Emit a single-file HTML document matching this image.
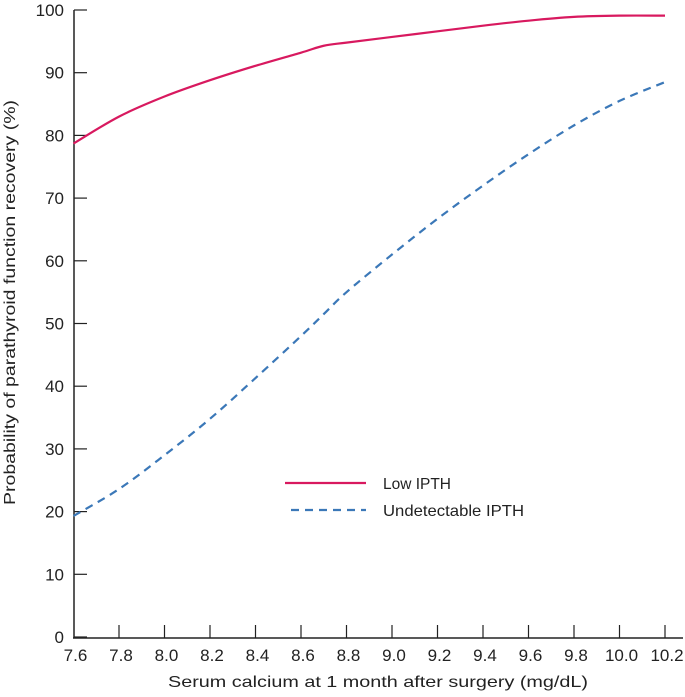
<!DOCTYPE html>
<html><head><meta charset="utf-8"><style>
body{margin:0;background:#fff}
svg text{font-family:"Liberation Sans",sans-serif;fill:#222}
</style></head><body>
<svg id="c" width="685" height="692"></svg>
<script>
const xTicks=[7.6,7.8,8.0,8.2,8.4,8.6,8.8,9.0,9.2,9.4,9.6,9.8,10.0,10.2];
const xLabels=["7.6","7.8","8.0","8.2","8.4","8.6","8.8","9.0","9.2","9.4","9.6","9.8","10.0","10.2"];
const yTicks=[0,10,20,30,40,50,60,70,80,90,100];
const calcium=[7.6,7.8,8.0,8.2,8.4,8.6,8.7,8.8,9.0,9.2,9.4,9.6,9.8,10.0,10.2];
const lowIPTH=[78.7,83,86.2,88.8,91.1,93.2,94.3,94.8,95.7,96.6,97.5,98.3,98.9,99.1,99.1];
const undetIPTH=[19.3,23.6,29,34.8,41.3,48,51.5,55,61,66.7,72,77,81.6,85.5,88.5];
const NS="http://www.w3.org/2000/svg",svg=document.getElementById('c');
const X=v=>73.5+(v-7.6)/0.2*45.5, Y=v=>637-v*6.27;
function mk(t,a,p){const e=document.createElementNS(NS,t);for(const k in a)e.setAttribute(k,a[k]);(p||svg).appendChild(e);return e;}
let e;
e=mk('line',{x1:74,y1:10,x2:74,y2:638,stroke:'#222','stroke-width':1.5});


e=mk('line',{x1:73,y1:638,x2:683,y2:638,stroke:'#222','stroke-width':1.5});


yTicks.forEach(v=>{
 e=mk('line',{x1:74,y1:Y(v),x2:87,y2:Y(v),stroke:'#222','stroke-width':1.2});
 
 
 e=mk('text',{x:64,y:Y(v)+6,'text-anchor':'end','font-size':17});e.textContent=v;
 
 
});
xTicks.forEach((v,i)=>{
 if(i>0){e=mk('line',{x1:X(v),y1:625,x2:X(v),y2:638,stroke:'#222','stroke-width':1.2});
 
 }
 e=mk('text',{x:X(v)+2,y:661,'text-anchor':'middle','font-size':17});e.textContent=xLabels[i];
 
 
});
e=mk('text',{x:168,y:687,'font-size':16,textLength:420,lengthAdjust:'spacingAndGlyphs'});e.textContent='Serum calcium at 1 month after surgery (mg/dL)';


e=mk('text',{x:0,y:0,'font-size':16,textLength:405,lengthAdjust:'spacingAndGlyphs',transform:'translate(15,505) rotate(-90)'});e.textContent='Probability of parathyroid function recovery (%)';


function path(vals){
 const p=calcium.map((c,i)=>[X(c),Y(vals[i])]);
 let d='M'+p[0][0]+','+p[0][1];
 for(let i=0;i<p.length-1;i++){const p0=p[i-1]||p[i],p1=p[i],p2=p[i+1],p3=p[i+2]||p2;
  d+=` C${p1[0]+(p2[0]-p0[0])/6},${p1[1]+(p2[1]-p0[1])/6} ${p2[0]-(p3[0]-p1[0])/6},${p2[1]-(p3[1]-p1[1])/6} ${p2[0]},${p2[1]}`;}
 return d;}
e=mk('path',{d:path(lowIPTH),fill:'none',stroke:'#d8195f','stroke-width':2.2});


e=mk('path',{d:path(undetIPTH),fill:'none',stroke:'#3b78b8','stroke-width':2.2,'stroke-dasharray':'8,6'});


e=mk('line',{x1:285,y1:483,x2:366,y2:483,stroke:'#d8195f','stroke-width':2.2});


e=mk('text',{x:383,y:489,'font-size':16,textLength:68,lengthAdjust:'spacingAndGlyphs'});e.textContent='Low IPTH';


e=mk('line',{x1:291,y1:510,x2:366,y2:510,stroke:'#3b78b8','stroke-width':2.2,'stroke-dasharray':'8,6'});


e=mk('text',{x:383,y:516,'font-size':16,textLength:141,lengthAdjust:'spacingAndGlyphs'});e.textContent='Undetectable IPTH';


</script>
</body></html>
